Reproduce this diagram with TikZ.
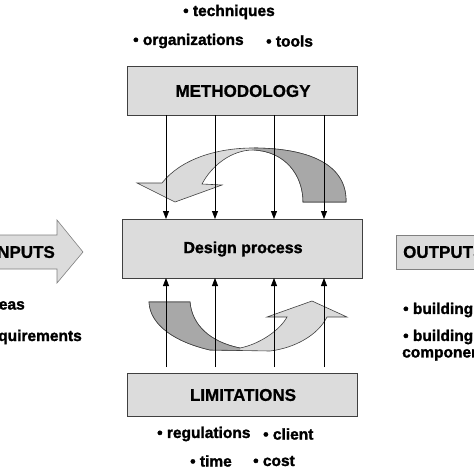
\documentclass[tikz,border=0pt]{standalone}
\usepackage{fontspec}
\setmainfont{Liberation Sans}
\newfontfamily\heavyfont[FakeBold=1.6]{Liberation Sans Bold}
\newfontfamily\labelfont[FakeBold=0.8]{Liberation Sans Bold}
\usetikzlibrary{arrows.meta}
\definecolor{boxfill}{HTML}{DCDCDC}
\definecolor{boxline}{HTML}{404040}
\definecolor{darkribbon}{HTML}{A8A8A8}
\definecolor{lightribbon}{HTML}{DADADA}
\tikzset{
  box/.style={draw=boxline, line width=0.9pt, fill=boxfill},
  boxlabel/.style={font=\labelfont\fontsize{17}{20}\selectfont, inner sep=0pt},
  item/.style={font=\heavyfont\fontsize{15.5}{18}\selectfont, inner sep=0pt},
  flow/.style={line width=0.8pt, -{Triangle[length=8pt,width=6pt]}},
  ribbon/.style={draw=boxline, line width=0.6pt},
}
\begin{document}
\begin{tikzpicture}[x=1pt,y=-1pt]
\useasboundingbox (0,0) rectangle (474,474);
\clip (0,0) rectangle (474,474);
\fill[white] (0,0) rectangle (474,474);

% boxes
\path[box] (127,66) rectangle (357,115);
\node[boxlabel] (meth) at (243,91) {METHODOLOGY};
\path[box] (122,219) rectangle (362,278);
\node[boxlabel,font=\heavyfont\fontsize{16}{19}\selectfont] (design) at (243,249) {Design process};
\path[box] (127,373) rectangle (357,416);
\node[boxlabel] (lim) at (243,395) {LIMITATIONS};

% arrow end points on the boxes
\foreach \i/\x in {1/166,2/215,3/274,4/324}{
  \coordinate (mt\i) at (\x,115);
  \coordinate (dt\i) at (\x,219);
  \coordinate (db\i) at (\x,278);
  \coordinate (lt\i) at (\x,367);
}

% upper curved arrow
\def\upperribbon{
  (346,202) .. controls (347,165) and (310,148) .. (253,148)
  .. controls (215,148) and (180,160) .. (162,183)
  -- (137,183) -- (175,202) -- (222,185) -- (202,184)
  .. controls (212,165) and (232,150) .. (253,150)
  .. controls (285,151) and (303,175) .. (303,202) -- cycle}
\path[ribbon, fill=lightribbon] \upperribbon;
\begin{scope}
  \clip (254,0) rectangle (474,474);
  \path[ribbon, fill=darkribbon] \upperribbon;
\end{scope}

% lower curved arrow
\def\lowerribbon{
  (149,302) -- (190,302) .. controls (192,325) and (210,342) .. (240,348)
  .. controls (260,344) and (280,330) .. (287,317)
  -- (267,317) -- (312,301) -- (347,317) -- (327,317)
  .. controls (318,335) and (295,348) .. (270,351)
  -- (210,350) .. controls (175,342) and (150,325) .. (149,302) -- cycle}
\path[ribbon, fill=lightribbon] \lowerribbon;
\begin{scope}
  \clip (0,0) rectangle (240,474);
  \path[ribbon, fill=darkribbon] \lowerribbon;
\end{scope}

\foreach \i in {1,2,3,4}{
  \draw[flow] (mt\i) -- (dt\i);
  \draw[flow] (lt\i) -- (db\i);
}

% inputs arrow
\path[ribbon, fill=boxfill, draw=gray]
  (-10,235) -- (57,235) -- (57,220) -- (83,252) -- (57,283) -- (57,269) -- (-10,269) -- cycle;
\node[boxlabel, anchor=east] (inputs) at (55,252) {INPUTS};
\node[item, anchor=east] (ideas) at (25,304) {• ideas};
\node[item, anchor=east] (req) at (82,337) {• requirements};

% outputs box
\path[box, draw=gray] (396,235) rectangle (490,269);
\node[boxlabel, anchor=west] (outputs) at (403,252) {OUTPUTS};
\node[item, anchor=west] (b1) at (403,310) {• building};
\node[item, anchor=west] (b2) at (403,337) {• building};
\node[item, anchor=west] (b3) at (402,354) {components};

% top items
\node[item] (tech) at (229,12) {• techniques};
\node[item, anchor=west] (org) at (133,41) {• organizations};
\node[item, anchor=west] (tools) at (266,41) {• tools};

% bottom items
\node[item, anchor=west] (reg) at (157,434) {• regulations};
\node[item, anchor=west] (client) at (263,434) {• client};
\node[item, anchor=west] (time) at (190,461) {• time};
\node[item, anchor=west] (cost) at (253,461) {• cost};
\end{tikzpicture}
\end{document}
